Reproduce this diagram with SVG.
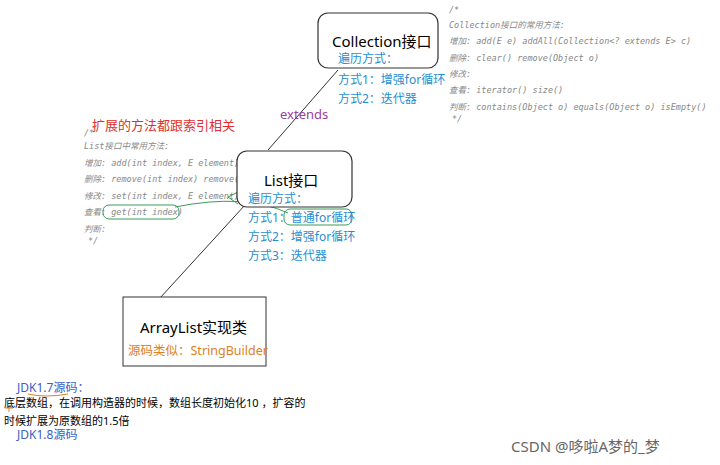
<svg xmlns="http://www.w3.org/2000/svg" width="720" height="465" viewBox="0 0 720 465">
<style>
.box{fill:#fff;stroke:#333;stroke-width:1.2}
.t{font-family:"Noto Sans","Noto Sans CJK SC",sans-serif}
.cm{font-family:"DejaVu Sans Mono","Noto Sans CJK SC",monospace;font-style:italic;font-size:8.5px;fill:#888}
.b{fill:#1f8fd0;font-size:12px}
</style>
<rect width="720" height="465" fill="#fff"/>
<g id="notes">
<text class="cm" x="449" y="13">/*</text>
<text class="cm" x="449" y="28">Collection接口的常用方法:</text>
<text class="cm" x="449" y="44">增加: add(E e) addAll(Collection&lt;? extends E&gt; c)</text>
<text class="cm" x="449" y="61">删除: clear() remove(Object o)</text>
<text class="cm" x="449" y="77">修改:</text>
<text class="cm" x="449" y="93">查看: iterator() size()</text>
<text class="cm" x="449" y="110">判断: contains(Object o)  equals(Object o) isEmpty()</text>
<text class="cm" x="452" y="122">*/</text>
<text class="t" x="92" y="130" font-size="13" fill="#e03030">扩展的方法都跟索引相关</text>
<text class="cm" x="84" y="136">/*</text>
<text class="cm" x="84" y="149">List接口中常用方法:</text>
<text class="cm" x="84" y="166">增加: add(int index, E element)</text>
<text class="cm" x="84" y="182">删除: remove(int index)  remove(Object o)</text>
<text class="cm" x="84" y="199">修改: set(int index, E element)</text>
<text class="cm" x="84" y="215">查看: get(int index)</text>
<text class="cm" x="84" y="232">判断:</text>
<text class="cm" x="88" y="244">*/</text>
</g>
<g id="connectors" fill="none">
<line x1="338" y1="70" x2="268" y2="150" stroke="#333"/>
<line x1="245" y1="205" x2="160" y2="298" stroke="#333"/>
<path d="M288 213 Q245 193 175 207" stroke="#3a9a5a"/>
<path d="M238 204 L228 197 L238 192" stroke="#3a9a5a"/>
<rect x="103" y="205" width="76" height="14" rx="6" stroke="#3a9a5a"/>
<rect x="284" y="209" width="68" height="16" rx="6" stroke="#3a9a5a"/>
<path d="M28 394 Q45 398 68 394" stroke="#e08020"/>
<path d="M5 408 H13 M9 405 V412" stroke="#e08020"/>
</g>
<g id="collection">
<rect class="box" x="318" y="13" width="120" height="55" rx="10"/>
<text class="t" x="332" y="47" font-size="15">Collection接口</text>
<text class="t b" x="338" y="63">遍历方式：</text>
<text class="t b" x="338" y="84">方式1：增强for循环</text>
<text class="t b" x="338" y="103">方式2：迭代器</text>
</g>
<text class="t" x="280" y="119" font-size="13" fill="#9b3fa0">extends</text>
<g id="list">
<rect class="box" x="237" y="151" width="115" height="56" rx="10"/>
<text class="t" x="264" y="186" font-size="15">List接口</text>
<text class="t b" x="248" y="203">遍历方式：</text>
<text class="t b" x="248" y="222">方式1：普通for循环</text>
<text class="t b" x="248" y="241">方式2：增强for循环</text>
<text class="t b" x="248" y="260">方式3：迭代器</text>
</g>
<g id="arraylist">
<rect x="123" y="297" width="143" height="69" fill="#fff" stroke="#333"/>
<text class="t" x="140" y="333" font-size="15">ArrayList实现类</text>
<text class="t" x="128" y="355" font-size="12.5" fill="#e08020">源码类似：StringBuilder</text>
</g>
<g id="footer">
<text class="t" x="17" y="392" font-size="12" fill="#4060c0">JDK1.7源码：</text>
<text class="t" x="4" y="407" font-size="11">底层数组，在调用构造器的时候，数组长度初始化10 ，扩容的</text>
<text class="t" x="4" y="425" font-size="11">时候扩展为原数组的1.5倍</text>
<text class="t" x="17" y="439" font-size="12" fill="#4060c0">JDK1.8源码</text>
<text class="t" x="511" y="452" font-size="15" fill="#666">CSDN @哆啦A梦的_梦</text>
</g>
</svg>
